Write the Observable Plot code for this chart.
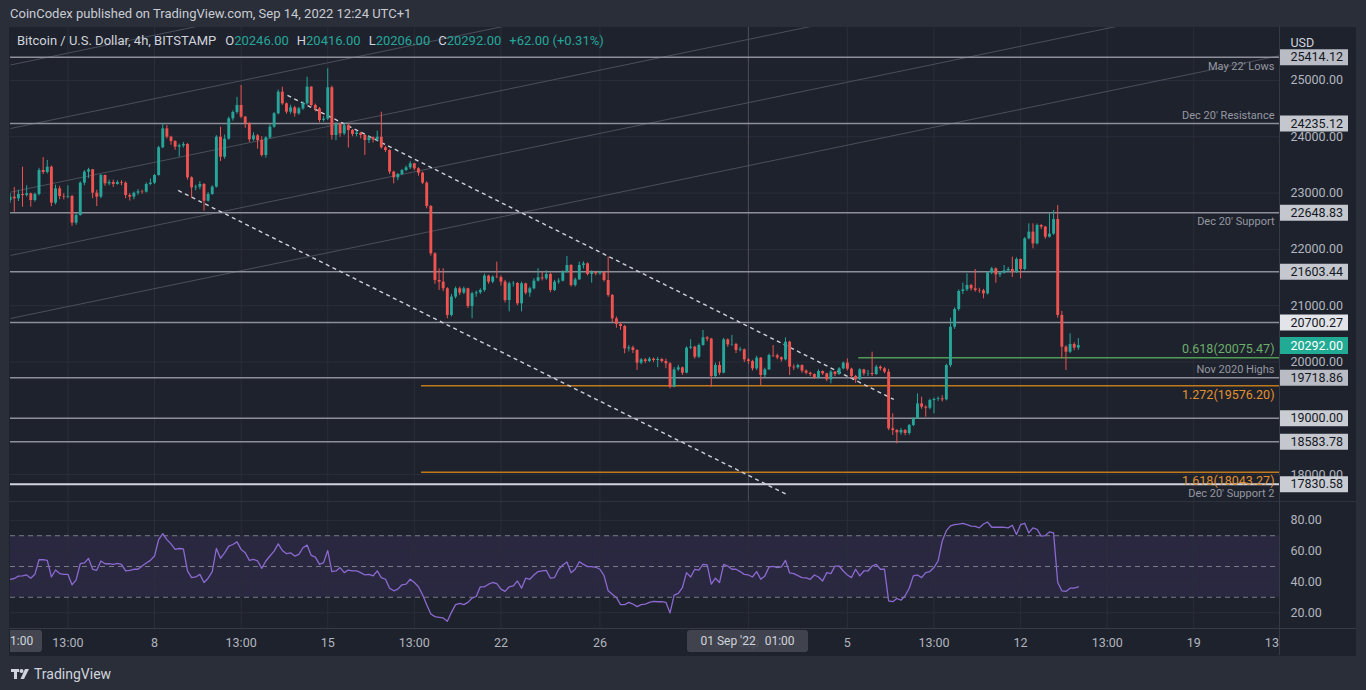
<!DOCTYPE html>
<html><head><meta charset="utf-8">
<script src="https://cdn.jsdelivr.net/npm/d3@7"></script>
<script src="https://cdn.jsdelivr.net/npm/@observablehq/plot@0.6"></script>
<style>
html,body{margin:0;padding:0;background:#2a2e39;width:1366px;height:690px;overflow:hidden;font-family:Roboto,"Liberation Sans",sans-serif;}
.abs{position:absolute;overflow:hidden;}
</style></head><body>
<div id="root" style="position:relative;width:1366px;height:690px;">
  <div class="abs" style="left:10px;top:6px;color:#c9ccd3;font-size:13px;white-space:nowrap;">CoinCodex published on TradingView.com, Sep 14, 2022 12:24 UTC+1</div>
  <div class="abs" style="left:9px;top:27px;width:1347px;height:629px;background:#1e222d;"></div>
  <div id="main" class="abs" style="left:10px;top:27px;width:1270px;height:474px;"></div>
  <div id="mainAxis" class="abs" style="left:1280px;top:27px;width:76px;height:474px;"></div>
  <div id="rsi" class="abs" style="left:10px;top:502px;width:1270px;height:126px;"></div>
  <div id="rsiAxis" class="abs" style="left:1280px;top:502px;width:76px;height:126px;"></div>
  <div id="xaxis" class="abs" style="left:10px;top:629px;width:1270px;height:26px;"></div>
  <div class="abs" style="left:9px;top:501px;width:1347px;height:1px;background:#2e323e;"></div>
  <div class="abs" style="left:9px;top:628px;width:1347px;height:1px;background:#363a45;"></div>
  <div class="abs" style="left:1279px;top:27px;width:1px;height:628px;background:#363a45;"></div>
  <div class="abs" style="left:10px;top:630px;width:32px;height:22px;background:#434651;border-radius:0 3px 3px 0;color:#d1d4dc;font-size:12px;line-height:22px;text-align:right;box-sizing:border-box;padding-right:9px;">1:00</div>
  <div class="abs" style="left:687px;top:630px;width:121px;height:22px;background:rgba(67,70,81,0.93);border-radius:3px;color:#d1d4dc;font-size:12px;line-height:22px;text-align:center;white-space:pre;">01 Sep '22   01:00</div>
  <div id="legend" class="abs" style="left:17px;top:33px;font-size:13px;color:#d1d4dc;white-space:pre;line-height:16px;"></div>
  <div class="abs" style="left:11px;top:664px;height:20px;display:flex;align-items:center;color:#d1d4dc;font-size:14px;">
    <svg width="20" height="12" viewBox="0 0 20 12"><rect x="0" y="1" width="8" height="3" fill="#d1d4dc"/><rect x="3" y="1" width="3" height="10" fill="#d1d4dc"/><circle cx="10.5" cy="3" r="2" fill="#d1d4dc"/><polygon points="14,1 18,1 13,11 9.5,11" fill="#d1d4dc"/></svg>
    <span style="margin-left:3px;">TradingView</span>
  </div>
</div>
<script>
// ---------- DATA ----------
const startTime = "2022-08-02T05:00Z";   // first 4h candle (UTC+1 clock)
const stepHours = 4;
const firstOpen = 22868;
const closes = [
22928,22898,22975,22957,22987,22868,22975,23401,23366,23460,
22821,23075,22939,22928,22939,22466,22602,23176,23372,23413,
22998,22928,23312,23164,23188,23152,23188,23176,22957,22928,
22998,23022,23016,23152,23176,23312,23804,24141,23993,23916,
23816,23839,23863,23271,23093,23105,23152,22856,22975,23105,
23993,23638,23958,24319,24431,24556,24349,24230,23946,24017,
23934,23668,23981,24171,24408,24793,24585,24437,24514,24408,
24496,24585,24881,24556,24496,24289,24313,24870,24023,24218,
24052,24195,24112,24041,24064,24023,23934,23981,23946,23993,
23804,23756,23372,23271,23330,23401,23449,23520,23431,23354,
23176,22762,21921,21448,21418,21300,20826,21152,21300,21223,
21300,20986,21211,21229,21270,21525,21418,21507,21500,21418,
21092,21389,21395,21033,21389,21223,21300,21436,21495,21477,
21554,21270,21418,21435,21595,21714,21358,21459,21714,21743,
21554,21589,21566,21589,21447,21181,20766,20666,20630,20233,
20251,20204,19979,20038,20008,20050,20026,20044,20008,19967,
19552,19860,19896,19801,20245,20263,20085,20293,20429,20405,
19742,19937,19801,20393,20304,20310,20204,20216,20038,20008,
19878,20068,19760,19860,20115,20109,20073,20038,20352,19908,
19896,19937,19837,19801,19777,19718,19831,19789,19683,19819,
19777,19878,19979,19872,19742,19683,19860,19789,19795,19777,
19908,19878,19819,18812,18783,18741,18783,18730,18872,18990,
19256,19197,19179,19316,19333,19345,19327,19937,20618,20932,
21252,21281,21358,21299,21270,21264,21210,21583,21654,21548,
21577,21619,21643,21595,21820,21643,22187,22306,22098,22424,
22395,22217,22270,22531,20826,20263,20174,20310,20246,20292];
const highs = [
22990,23100,23050,23460,23130,23000,23000,23440,23630,23580,
23480,23140,23120,22990,23130,22960,22640,23200,23400,23440,
23420,23050,23330,23320,23230,23230,23220,23220,23200,22990,
23020,23060,23050,23180,23250,23330,23830,24230,24200,24010,
23930,23870,23900,23880,23290,23140,23200,23170,23010,23130,
24020,24170,24030,24350,24460,24700,24911,24360,24250,24070,
24040,24000,24000,24220,24430,24830,24881,24600,24560,24540,
24520,24620,25059,24890,24580,24520,24360,25207,24900,24250,
24240,24230,24230,24130,24100,24080,24040,24010,24000,24100,
24437,23830,23770,23390,23350,23420,23480,23560,23530,23450,
23370,23200,22780,21940,21655,21655,21320,21200,21330,21330,
21330,21310,21240,21260,21300,21560,21540,21530,21773,21530,
21450,21420,21430,21410,21420,21400,21330,21480,21655,21600,
21620,21580,21450,21480,21620,21873,21730,21490,21773,21780,
21760,21620,21610,21610,21600,21862,21200,20800,20700,20650,
20290,20280,20220,20060,20060,20080,20070,20080,20060,20050,
19990,19900,19940,19910,20270,20393,20280,20320,20559,20450,
20420,19980,20000,20420,20410,20470,20330,20260,20230,20060,
20030,20100,20080,19890,20140,20293,20140,20090,20429,20370,
19950,19960,19950,19860,19820,19790,19860,19840,19800,19850,
19830,19900,20000,20056,19890,19760,19880,19870,19850,20174,
19940,19930,19900,19870,19079,18800,18820,18800,18890,19010,
19434,19375,19220,19340,19360,19380,19400,19960,20778,20960,
21280,21400,21566,21380,21643,21310,21290,21600,21680,21670,
21600,21714,21680,21862,21850,21830,22210,22454,22454,22450,
22440,22410,22631,22691,22779,20900,20290,20500,20340,20416];
const lows = [
22820,22660,22850,22750,22930,22750,22840,22950,23330,23340,
22760,22790,22880,22880,22900,22410,22430,22590,23130,23260,
22900,22760,22900,23120,23130,23100,23140,23130,22900,22860,
22880,22960,22980,23000,23130,23150,23300,23790,23960,23850,
23760,23640,23800,23230,22900,23040,23060,22680,22840,22960,
23090,23560,23600,23940,24280,24400,24320,24150,23900,23920,
23780,23640,23620,23960,24150,24390,24560,24400,24400,24350,
24380,24470,24560,24530,24440,24250,24260,24290,23940,23930,
23990,24020,23800,24000,24000,23960,23670,23880,23890,23920,
23780,23720,23330,23164,23220,23310,23380,23420,23400,23300,
23150,22720,21880,21380,21270,21250,20767,20800,21120,21180,
21200,20950,20767,21150,21200,21240,21380,21390,21480,21350,
21050,20890,21330,21000,20890,21190,21150,21280,21420,21440,
21450,21230,21250,21380,21420,21580,21330,21330,21450,21650,
21530,21400,21530,21540,21420,21150,20700,20600,20560,20145,
20180,20150,19850,19950,19970,19990,19990,19900,19980,19880,
19523,19540,19830,19760,19790,20220,20050,20060,20280,20360,
19552,19720,19760,19790,20260,20280,20150,20180,19990,19960,
19840,19850,19582,19720,19850,20080,20040,20000,20020,19760,
19850,19870,19800,19770,19740,19690,19700,19760,19650,19612,
19740,19760,19860,19840,19700,19620,19670,19750,19740,19740,
19760,19840,19790,18780,18694,18546,18700,18690,18700,18850,
18980,19160,19020,19150,19079,19300,19290,19310,19900,20580,
20900,21200,21250,21260,21240,21220,21122,21190,21550,21400,
21500,21560,21590,21500,21570,21477,21620,22170,22010,22080,
22350,22180,22200,22250,20780,20056,19849,20150,20200,20206];
const rsiValues = [
41.7,42.2,43.7,43.9,44.5,42.4,44.9,54.4,54.4,54.0,
43.2,47.7,45.4,44.9,44.9,38.1,41.3,51.8,52.3,55.3,
48.2,47.5,53.6,51.8,51.8,51.4,52.0,51.4,47.1,47.5,
48.2,48.2,50.3,52.3,54.0,56.8,67.5,71.4,67.5,64.7,
61.1,61.7,61.5,47.1,42.8,43.2,44.9,39.6,42.4,46.7,
61.7,55.3,58.9,63.2,64.3,66.0,61.1,58.9,54.0,54.6,
53.6,48.8,53.6,56.8,60.0,64.7,60.4,58.3,58.9,56.8,
57.9,62.2,63.9,57.2,56.1,51.4,52.5,60.4,46.7,47.1,
49.3,46.0,47.7,47.1,47.1,46.0,44.5,44.9,43.9,47.1,
42.8,41.7,35.9,34.2,35.3,38.1,38.5,41.7,39.6,36.8,
31.6,25.2,19.1,17.4,17.0,16.6,14.4,20.2,25.2,26.0,
25.2,26.7,29.5,30.5,36.8,36.8,38.5,39.6,38.9,35.3,
33.8,36.8,37.4,40.6,35.9,42.4,41.7,44.5,46.7,47.1,
47.5,42.4,42.8,48.2,51.0,52.9,46.0,48.2,53.1,51.4,
49.9,49.9,49.5,48.2,44.1,34.2,32.0,29.9,25.2,25.2,
26.7,25.6,23.9,25.2,25.6,26.7,27.3,27.1,27.1,26.7,
19.8,31.4,32.5,36.3,46.0,43.2,48.2,47.7,51.4,51.0,
38.5,42.4,39.6,51.4,50.3,48.2,48.2,46.7,44.9,44.5,
43.2,46.7,41.7,43.9,49.7,50.1,49.3,49.7,54.0,45.8,
45.4,44.1,42.8,42.6,41.7,44.5,43.2,40.6,46.0,45.4,
50.3,50.3,47.1,44.5,42.8,48.2,43.9,47.1,47.1,50.3,
51.4,48.2,48.2,27.7,27.1,29.2,28.1,31.0,35.9,43.9,
44.5,42.8,46.0,46.7,49.3,53.6,66.5,73.3,76.4,77.2,
77.6,78.1,77.2,76.3,76.1,75.1,77.6,78.9,75.5,75.5,
75.5,75.5,75.1,76.8,70.8,77.2,78.1,71.8,75.1,74.2,
69.7,70.1,72.5,71.8,39.6,34.2,33.8,35.9,35.9,36.8];

const tickDates = ["2022-08-04T13:00Z","2022-08-08T01:00Z","2022-08-11T13:00Z","2022-08-15T01:00Z","2022-08-18T13:00Z","2022-08-22T01:00Z","2022-08-26T01:00Z","2022-09-01T01:00Z","2022-09-05T01:00Z","2022-09-08T13:00Z","2022-09-12T01:00Z","2022-09-15T13:00Z","2022-09-19T01:00Z","2022-09-22T13:00Z"];
const tickLabels = ["13:00","8","13:00","15","13:00","22","26","Sep","5","13:00","12","13:00","19","13:00"];
const crosshairDate = "2022-09-01T01:00Z";
const priceTicks = [18000,19000,20000,21000,22000,23000,24000,25000];
const rsiTicks = [20,40,60,80];
const rsiBands = [30,50,70];

const levelPrices = [25414.12,24235.12,22648.83,21603.44,20700.27,19718.86,19000.00,18583.78,17830.58];
const levelBoxColors = ["#b9bcc4","#c4c7ce","#c4c7ce","#c4c7ce","#e2e4e9","#b9bcc4","#c9ccd2","#c4c7ce","#c9ccd2"];
const levelLineColors = ["#8d9099","#8d9099","#8d9099","#8d9099","#8d9099","#8d9099","#8d9099","#8d9099","#d1d4dc"];

const noteTexts = ["May 22' Lows","Dec 20' Resistance","Dec 20' Support","0.618(20075.47)","Nov 2020 Highs","1.272(19576.20)","1.618(18043.27)","Dec 20' Support 2"];
const notePrices = [25414.12,24235.12,22648.83,20075.47,19718.86,19576.20,18043.27,17830.58];
const noteSides = ["below","above","below","above","above","below","below","below"];
const noteColors = ["#9598a1","#9598a1","#9598a1","#6cae6c","#9598a1","#e2912e","#e2912e","#9598a1"];
const noteSizes = [11,11,11,12.5,11,12.5,12.5,11];

const fibPrices = [20075.47,19576.20,18043.27];
const fibStarts = ["2022-09-05T12:00Z","2022-08-18T20:00Z","2022-08-18T20:00Z"];
const fibColors = ["#4f9d55","#c0791b","#c0791b"];

// rising channel lines (drawn from chart left edge to right edge)
const channelStartPrices = [25275,24147,23016,21892,20773];
const channelEndPrices = [29946,28819,27687,26563,25444];
// descending dashed trend lines
const trendStarts = ["2022-08-13T10:00Z","2022-08-09T00:00Z"];
const trendStartPrices = [24734,23046];
const trendEnds = ["2022-09-06T22:00Z","2022-09-02T14:00Z"];
const trendEndPrices = [19334,17647];

const lastPrice = 20292.00;
const legendItems = [["O","20246.00"],["H","20416.00"],["L","20206.00"],["C","20292.00"]];
const legendChange = "+62.00 (+0.31%)";

// ---------- SCALES / STYLE ----------
const X_DOMAIN = [new Date("2022-08-02T05:20Z"), new Date("2022-09-22T13:05Z")];
const PRICE_DOMAIN = [17522, 25941];
const RSI_DOMAIN = [9.7, 91.6];
const FONT = "Roboto, 'Liberation Sans', sans-serif";
const UP = "#26a69a", DOWN = "#ef5350", GRID = "#2a2e3a";
const baseStyle = {background: "transparent", fontFamily: FONT, fontSize: "12px", overflow: "visible"};

const t0 = new Date(startTime).getTime();
const candles = closes.map((c, i) => ({
  date: new Date(t0 + i * stepHours * 3600e3),
  open: i ? closes[i - 1] : firstOpen,
  close: c, high: highs[i], low: lows[i], rsi: rsiValues[i]
}));
const ticks = tickDates.map((d, i) => ({date: new Date(d), label: tickLabels[i]}));
const tickDateObjs = ticks.map(t => t.date);
const levels = levelPrices.map((p, i) => ({price: p, box: levelBoxColors[i], line: levelLineColors[i], label: p.toFixed(2)}));
const notes = noteTexts.map((t, i) => ({text: t, price: notePrices[i], side: noteSides[i], color: noteColors[i], size: noteSizes[i]}));
const fibs = fibPrices.map((p, i) => ({price: p, start: new Date(fibStarts[i]), end: X_DOMAIN[1], color: fibColors[i]}));
const channels = channelStartPrices.map((p, i) => ({d1: X_DOMAIN[0], p1: p, d2: X_DOMAIN[1], p2: channelEndPrices[i]}));
const trends = trendStarts.map((d, i) => ({d1: new Date(d), p1: trendStartPrices[i], d2: new Date(trendEnds[i]), p2: trendEndPrices[i]}));
const col = d => d.close >= d.open ? UP : DOWN;

// ---------- MAIN PRICE PANE ----------
const main = Plot.plot({
  width: 1270, height: 474, margin: 0,
  x: {type: "utc", domain: X_DOMAIN, axis: null},
  y: {domain: PRICE_DOMAIN, axis: null},
  style: baseStyle,
  marks: [
    Plot.ruleY(priceTicks, {stroke: GRID}),
    Plot.ruleX(tickDateObjs, {stroke: GRID}),
    Plot.ruleX([new Date(crosshairDate)], {stroke: "#4a4e5a"}),
    Plot.link(channels, {x1: "d1", y1: "p1", x2: "d2", y2: "p2", stroke: "#4b4f5b", strokeWidth: 1}),
    Plot.ruleY(levels.filter(l => l.line !== "#d1d4dc"), {y: "price", stroke: "line", strokeWidth: 1.5}),
    Plot.ruleY(levels.filter(l => l.line === "#d1d4dc"), {y: "price", stroke: "line", strokeWidth: 2}),
    Plot.ruleY(fibs, {y: "price", x1: "start", x2: "end", stroke: "color", strokeWidth: 1.5}),
    Plot.link(trends, {x1: "d1", y1: "p1", x2: "d2", y2: "p2", stroke: "#cfd2d9", strokeWidth: 1.4, strokeDasharray: "4,3.5"}),
    Plot.ruleX(candles, {x: "date", y1: "low", y2: "high", stroke: col, strokeWidth: 1}),
    Plot.ruleX(candles, {x: "date", y1: "open", y2: "close", stroke: col, strokeWidth: 2.9}),
    ...notes.map(n => Plot.text([n], {y: "price", text: "text", frameAnchor: "right", dx: -6,
      dy: n.side === "above" ? -8.5 : 9, fill: "color", textAnchor: "end", fontSize: n.size}))
  ]
});
document.getElementById("main").appendChild(main);

// ---------- PRICE AXIS ----------
const mainAxis = Plot.plot({
  width: 76, height: 474, margin: 0, marginRight: 8,
  x: {domain: [0, 1], axis: null},
  y: {domain: PRICE_DOMAIN, axis: null},
  style: baseStyle,
  marks: [
    Plot.text(priceTicks, {y: d => d, x: 0, dx: 10, text: d => d.toFixed(2), textAnchor: "start", fill: "#b2b5be", fontSize: 12.5}),
    Plot.ruleY(levels, {y: "price", x1: 0, x2: 1, stroke: "box", strokeWidth: 16}),
    Plot.text(levels, {y: "price", x: 0, dx: 10, text: "label", textAnchor: "start", fill: "#131722", fontSize: 12.5}),
    Plot.ruleY([lastPrice], {x1: 0, x2: 1, stroke: "#22ab94", strokeWidth: 17}),
    Plot.text([lastPrice], {y: d => d, x: 0, dx: 10, text: d => d.toFixed(2), textAnchor: "start", fill: "#ffffff", fontSize: 12.5}),
    Plot.text(["USD"], {frameAnchor: "top-left", dx: 10, dy: 11, fill: "#d1d4dc", fontSize: 12.5})
  ]
});
document.getElementById("mainAxis").appendChild(mainAxis);

// ---------- RSI PANE ----------
const rsiPlot = Plot.plot({
  width: 1270, height: 126, margin: 0,
  x: {type: "utc", domain: X_DOMAIN, axis: null},
  y: {domain: RSI_DOMAIN, axis: null},
  style: baseStyle,
  marks: [
    Plot.rect([0], {y1: 30, y2: 70, fill: "#7e57c2", fillOpacity: 0.13}),
    Plot.ruleY(rsiTicks, {stroke: GRID}),
    Plot.ruleX(tickDateObjs, {stroke: GRID}),
    Plot.ruleY(rsiBands, {stroke: "#787b86", strokeDasharray: "5,4", strokeWidth: 1}),
    Plot.line(candles, {x: "date", y: "rsi", stroke: "#8b69d0", strokeWidth: 1.3})
  ]
});
document.getElementById("rsi").appendChild(rsiPlot);

const rsiAxis = Plot.plot({
  width: 76, height: 126, margin: 0, marginRight: 8,
  x: {domain: [0, 1], axis: null},
  y: {domain: RSI_DOMAIN, axis: null},
  style: baseStyle,
  marks: [
    Plot.text(rsiTicks, {y: d => d, x: 0, dx: 10, text: d => d.toFixed(2), textAnchor: "start", fill: "#b2b5be", fontSize: 12.5})
  ]
});
document.getElementById("rsiAxis").appendChild(rsiAxis);

// ---------- TIME AXIS ----------
const xAxis = Plot.plot({
  width: 1270, height: 26, margin: 0,
  x: {type: "utc", domain: X_DOMAIN, axis: null},
  style: baseStyle,
  marks: [
    Plot.text(ticks, {x: "date", text: "label", frameAnchor: "middle", fill: "#b2b5be", fontSize: 12.5})
  ]
});
document.getElementById("xaxis").appendChild(xAxis);

// ---------- LEGEND ----------
const leg = document.getElementById("legend");
let html = '<span>Bitcoin / U.S. Dollar, 4h, BITSTAMP</span>';
legendItems.forEach(([k, v], i) => {
  html += '<span style="margin-left:' + (i ? 8 : 9) + 'px">' + k + '</span><span style="color:#26a69a">' + v + '</span>';
});
html += '<span style="margin-left:8px;color:#26a69a">' + legendChange + '</span>';
leg.innerHTML = html;
</script>
</body></html>
